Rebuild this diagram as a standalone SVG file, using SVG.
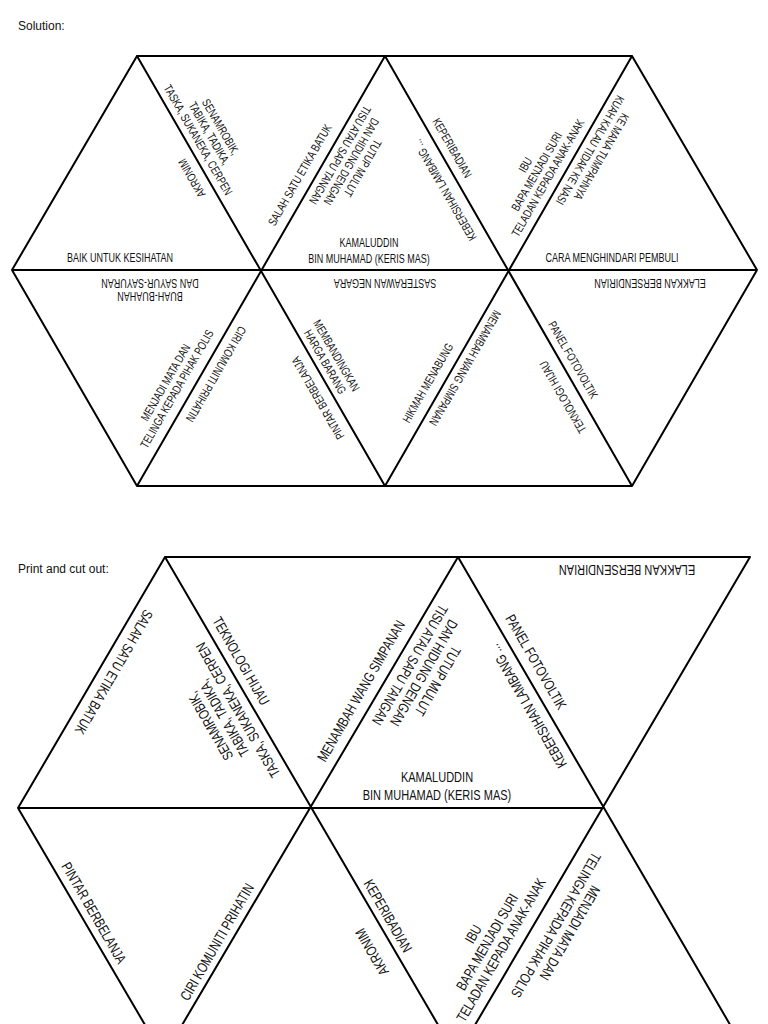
<svg xmlns="http://www.w3.org/2000/svg" width="768" height="1024" viewBox="0 0 768 1024">
<style>
.ln{stroke:#000;stroke-width:2;fill:none;stroke-linecap:round}
.t{font-family:"Liberation Sans",Arial,sans-serif;font-size:12px;text-anchor:middle;fill:#111}
.b{font-family:"Liberation Sans",Arial,sans-serif;font-size:14.5px;text-anchor:middle;fill:#111}
.h{font-family:"Liberation Sans",Arial,sans-serif;font-size:12px;fill:#111}
</style>
<rect width="768" height="1024" fill="#fff"/>
<text class="h" x="18" y="30">Solution:</text>
<text class="h" x="18" y="573">Print and cut out:</text>
<g id="connectors">
<path class="ln" d="M137,56H632M12,270H757M137,486H632M12,270L137,56M137,56L385,486M137,486L385,56M385,56L632,486M385,486L632,56M632,56L757,270M12,270L137,486M632,486L757,270"/>
<path class="ln" d="M165,557H750M18,808H603M18,808L165,557M165,557L458,1059M458,557L162,1059M458,557L750,1059M750,557L455,1059M18,808L165,1059"/>
</g>
<g id="top-texts">
<text class="t" transform="translate(120,262) scale(.75,1)">BAIK UNTUK KESIHATAN</text>
<g id="n2" transform="translate(192,178) rotate(-120) scale(.75,1)"><text class="t" y="4">AKRONIM</text></g>
<g id="n3" transform="translate(198,140) rotate(60) scale(.75,1)"><text class="t"><tspan x="0" y="-22">SENAMROBIK,</tspan><tspan x="0" y="-9">TABIKA, TADIKA,</tspan><tspan x="0" y="4">TASKA, SUKANEKA, CERPEN</tspan></text></g>
<g id="n4" transform="translate(300,175) rotate(-60) scale(.75,1)"><text class="t" y="4">SALAH SATU ETIKA BATUK</text></g>
<g id="n5" transform="translate(340,155) rotate(120) scale(.75,1)"><text class="t"><tspan x="0" y="-22">TUTUP MULUT</tspan><tspan x="0" y="-9">DAN HIDUNG DENGAN</tspan><tspan x="0" y="4">TISU ATAU SAPU TANGAN</tspan></text></g>
<g id="n6" transform="translate(369,0) scale(.75,1)"><text class="t"><tspan x="0" y="247">KAMALUDDIN</tspan><tspan x="0" y="263">BIN MUHAMAD (KERIS MAS)</tspan></text></g>
<g id="n7" transform="translate(445,190) rotate(-120) scale(.75,1)"><text class="t" y="4">KEBERSIHAN LAMBANG ...</text></g>
<g id="n8" transform="translate(452,148) rotate(60) scale(.75,1)"><text class="t" y="4">KEPERIBADIAN</text></g>
<g id="n9" transform="translate(548,178) rotate(-60) scale(.75,1)"><text class="t"><tspan x="0" y="-22">IBU</tspan><tspan x="0" y="-9">BAPA MENJADI SURI</tspan><tspan x="0" y="4">TELADAN KEPADA ANAK-ANAK</tspan></text></g>
<g id="n10" transform="translate(590,150) rotate(120) scale(.75,1)"><text class="t"><tspan x="0" y="-9">KE MANA TUMPAHNYA</tspan><tspan x="0" y="4">KUAH KALAU TIDAK KE NASI</tspan></text></g>
<text class="t" transform="translate(612,262) scale(.75,1)">CARA MENGHINDARI PEMBULI</text>
<g id="n12" transform="translate(150,283) rotate(180) scale(.75,1)"><text class="t"><tspan x="0" y="-9">BUAH-BUAHAN</tspan><tspan x="0" y="4">DAN SAYUR-SAYURAN</tspan></text></g>
<g id="n13" transform="translate(177,389) rotate(-60) scale(.75,1)"><text class="t"><tspan x="0" y="-9">MENJADI MATA DAN</tspan><tspan x="0" y="4">TELINGA KEPADA PIHAK POLIS</tspan></text></g>
<g id="n14" transform="translate(216,374) rotate(120) scale(.75,1)"><text class="t" y="4">CIRI KOMUNITI PRIHATIN</text></g>
<g id="n15" transform="translate(318,398) rotate(-120) scale(.75,1)"><text class="t" y="4">PINTAR BERBELANJA</text></g>
<g id="n16" transform="translate(325,362) rotate(60) scale(.75,1)"><text class="t"><tspan x="0" y="-9">MEMBANDINGKAN</tspan><tspan x="0" y="4">HARGA BARANG</tspan></text></g>
<g id="n17" transform="translate(385,283) rotate(180) scale(.75,1)"><text class="t" y="4">SASTERAWAN NEGARA</text></g>
<g id="n18" transform="translate(428,383) rotate(-60) scale(.75,1)"><text class="t" y="4">HIKMAH MENABUNG</text></g>
<g id="n19" transform="translate(465,368) rotate(120) scale(.75,1)"><text class="t" y="4">MENAMBAH WANG SIMPANAN</text></g>
<g id="n20" transform="translate(563,397) rotate(-120) scale(.75,1)"><text class="t" y="4">TEKNOLOGI HIJAU</text></g>
<g id="n21" transform="translate(650,283) rotate(180) scale(.75,1)"><text class="t" y="4">ELAKKAN BERSENDIRIAN</text></g>
<g id="n22" transform="translate(573,360) rotate(60) scale(.75,1)"><text class="t" y="4">PANEL FOTOVOLTIK</text></g>
</g>
<g id="bottom-texts">
<g id="m1" transform="translate(114,672) rotate(120) scale(.76,1)"><text class="b" y="5">SALAH SATU ETIKA BATUK</text></g>
<g id="m2" transform="translate(238,710) rotate(-120) scale(.76,1)"><text class="b"><tspan x="0" y="-27">SENAMROBIK,</tspan><tspan x="0" y="-11">TABIKA, TADIKA,</tspan><tspan x="0" y="5">TASKA, SUKANEKA, CERPEN</tspan></text></g>
<g id="m3" transform="translate(241,661) rotate(60) scale(.76,1)"><text class="b" y="5">TEKNOLOGI HIJAU</text></g>
<g id="m4" transform="translate(361,691) rotate(-60) scale(.76,1)"><text class="b" y="5">MENAMBAH WANG SIMPANAN</text></g>
<g id="m5" transform="translate(410,665) rotate(120) scale(.76,1)"><text class="b"><tspan x="0" y="-27">TUTUP MULUT</tspan><tspan x="0" y="-11">DAN HIDUNG DENGAN</tspan><tspan x="0" y="5">TISU ATAU SAPU TANGAN</tspan></text></g>
<g id="m6" transform="translate(437,0) scale(.76,1)"><text class="b"><tspan x="0" y="782">KAMALUDDIN</tspan><tspan x="0" y="800">BIN MUHAMAD (KERIS MAS)</tspan></text></g>
<g id="m7" transform="translate(528,706) rotate(-120) scale(.76,1)"><text class="b" y="5">KEBERSIHAN LAMBANG ...</text></g>
<g id="m8" transform="translate(627,570) rotate(180) scale(.76,1)"><text class="b" y="5">ELAKKAN BERSENDIRIAN</text></g>
<g id="m9" transform="translate(536,662) rotate(60) scale(.76,1)"><text class="b" y="5">PANEL FOTOVOLTIK</text></g>
<g id="m10" transform="translate(94,913) rotate(60) scale(.76,1)"><text class="b" y="5">PINTAR BERBELANJA</text></g>
<g id="m11" transform="translate(217,942) rotate(-60) scale(.76,1)"><text class="b" y="5">CIRI KOMUNITI PRIHATIN</text></g>
<g id="m12" transform="translate(372,952) rotate(-120) scale(.76,1)"><text class="b" y="5">AKRONIM</text></g>
<g id="m13" transform="translate(388,916) rotate(60) scale(.76,1)"><text class="b" y="5">KEPERIBADIAN</text></g>
<g id="m14" transform="translate(501,950) rotate(-60) scale(.76,1)"><text class="b"><tspan x="0" y="-27">IBU</tspan><tspan x="0" y="-11">BAPA MENJADI SURI</tspan><tspan x="0" y="5">TELADAN KEPADA ANAK-ANAK</tspan></text></g>
<g id="m15" transform="translate(556,925) rotate(120) scale(.76,1)"><text class="b"><tspan x="0" y="-11">MENJADI MATA DAN</tspan><tspan x="0" y="5">TELINGA KEPADA PIHAK POLIS</tspan></text></g>
</g>
</svg>
